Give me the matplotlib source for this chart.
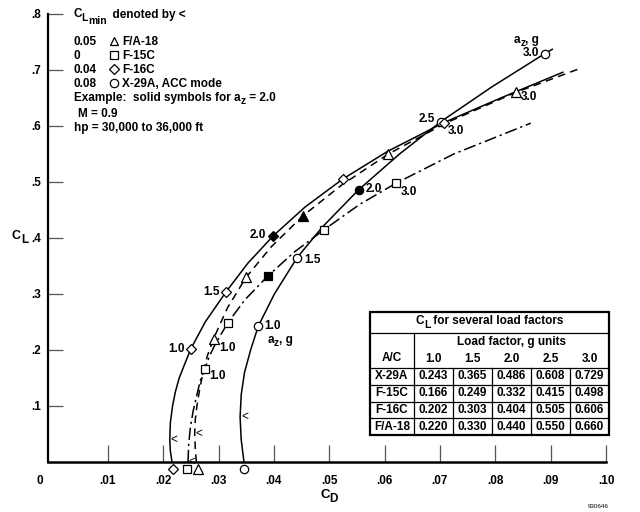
import matplotlib
matplotlib.use("Agg")
import matplotlib.pyplot as plt
from matplotlib.patches import Rectangle

plt.rcParams['font.family'] = ['Liberation Sans', 'DejaVu Sans']
plt.rcParams['font.weight'] = 'bold'

# Load factors and C_L table values
load_factors = ['1.0', '1.5', '2.0', '2.5', '3.0']
aircraft = ['X-29A', 'F-15C', 'F-16C', 'F/A-18']
cl_x29 = [0.243, 0.365, 0.486, 0.608, 0.729]
cl_f15 = [0.166, 0.249, 0.332, 0.415, 0.498]
cl_f16 = [0.202, 0.303, 0.404, 0.505, 0.606]
cl_fa18 = [0.220, 0.330, 0.440, 0.550, 0.660]

# C_D read at the load factor symbols
cd_x29 = [0.0372, 0.0442, 0.0553, 0.0702, 0.0889]
cd_f15 = [0.0275, 0.0317, 0.0389, 0.0491, 0.0621]
cd_f16 = [0.0250, 0.0313, 0.0399, 0.0524, 0.0707]
cd_fa18 = [0.0291, 0.0350, 0.0453, 0.0607, 0.0837]

# C_D symbols sitting on the axis
cd_zero_x29 = 0.0346
cd_zero_f15 = 0.0243
cd_zero_f16 = 0.0217
cd_zero_fa18 = 0.0263

# C_Lmin marks (<)
clmin_x29, cdmin_x29 = 0.08, 0.0341
clmin_f15, cdmin_f15 = 0.0, 0.0246
clmin_f16, cdmin_f16 = 0.04, 0.0213
clmin_fa18, cdmin_fa18 = 0.05, 0.0259

# Polar curves
curve_x29_cl = [0.0, 0.04, 0.08, 0.12, 0.16, 0.20, 0.243, 0.30, 0.365, 0.42, 0.486, 0.55, 0.608, 0.67, 0.729, 0.737]
curve_x29_cd = [0.0346, 0.0341, 0.0339, 0.0341, 0.0347, 0.0358, 0.0372, 0.0401, 0.0442, 0.0488, 0.0553, 0.0627, 0.0702, 0.0794, 0.0889, 0.0903]
curve_f16_cl = [0.0, 0.02, 0.04, 0.07, 0.10, 0.125, 0.15, 0.175, 0.202, 0.25, 0.303, 0.355, 0.404, 0.455, 0.505, 0.555, 0.606, 0.65, 0.696]
curve_f16_cd = [0.0216, 0.0213, 0.0212, 0.0213, 0.0217, 0.0222, 0.0229, 0.0239, 0.0250, 0.0276, 0.0313, 0.0353, 0.0399, 0.0456, 0.0524, 0.0606, 0.0707, 0.0810, 0.0922]
curve_fa18_cl = [0.0, 0.025, 0.05, 0.075, 0.10, 0.13, 0.16, 0.19, 0.220, 0.275, 0.330, 0.385, 0.440, 0.495, 0.550, 0.605, 0.660, 0.702]
curve_fa18_cd = [0.0260, 0.0258, 0.0257, 0.0258, 0.0261, 0.0266, 0.0272, 0.0280, 0.0291, 0.0316, 0.0350, 0.0396, 0.0453, 0.0523, 0.0607, 0.0710, 0.0837, 0.0951]
curve_f15_cl = [0.0, 0.03, 0.06, 0.09, 0.12, 0.145, 0.166, 0.19, 0.21, 0.249, 0.29, 0.332, 0.375, 0.415, 0.46, 0.498, 0.55, 0.605]
curve_f15_cd = [0.0245, 0.0246, 0.0249, 0.0254, 0.0261, 0.0267, 0.0275, 0.0284, 0.0294, 0.0317, 0.0348, 0.0389, 0.0437, 0.0491, 0.0555, 0.0621, 0.0725, 0.0864]

x_ticks = [0.01, 0.02, 0.03, 0.04, 0.05, 0.06, 0.07, 0.08, 0.09, 0.10]
x_tick_labels = ['.01', '.02', '.03', '.04', '.05', '.06', '.07', '.08', '.09', '.10']
y_ticks = [0.1, 0.2, 0.3, 0.4, 0.5, 0.6, 0.7, 0.8]
y_tick_labels = ['.1', '.2', '.3', '.4', '.5', '.6', '.7', '.8']

FS = 8.5
SUB = 7.5

fig = plt.figure(figsize=(6.4, 5.12), dpi=100)
ax = fig.add_axes([48 / 640, 50 / 512, 558 / 640, 448 / 512])
ax.set_xlim(-0.0008, 0.10)
ax.set_ylim(0, 0.8)

# overlay in pixel coordinates (y down) for texts and the table
ov = fig.add_axes([0, 0, 1, 1])
ov.set_xlim(0, 640)
ov.set_ylim(512, 0)
ov.axis('off')
ov.patch.set_alpha(0)
renderer = fig.canvas.get_renderer()


def rich(x, y, parts, ha='left'):
    # parts: (text, size, dy) with dy in pixels downward
    objs = []
    cx = x
    for s, size, dy in parts:
        t = ov.text(cx, y + dy, s, fontsize=size, ha='left', va='center', zorder=7)
        cx += t.get_window_extent(renderer).width
        objs.append(t)
    shift = {'left': 0, 'center': -(cx - x) / 2, 'right': -(cx - x)}[ha]
    for t in objs:
        px, py = t.get_position()
        t.set_position((px + shift, py))


def to_px(cd, cl):
    dx, dy = ax.transData.transform((cd, cl))
    return dx, 512 - dy


line_kw = dict(color='black', lw=1.1)
ax.plot(curve_x29_cd, curve_x29_cl, ls='-', **line_kw)
ax.plot(curve_f16_cd, curve_f16_cl, ls='-', **line_kw)
ax.plot(curve_fa18_cd, curve_fa18_cl, ls=(0, (5, 3.5)), **line_kw)
ax.plot(curve_f15_cd, curve_f15_cl, ls=(0, (8, 2.5, 1.5, 2.5)), **line_kw)

sets = [
    (cd_x29, cl_x29, cd_zero_x29, 'o', 6.0),
    (cd_f15, cl_f15, cd_zero_f15, 's', 6.0),
    (cd_f16, cl_f16, cd_zero_f16, 'D', 5.5),
    (cd_fa18, cl_fa18, cd_zero_fa18, '^', 7.0),
]
for cds, cls, cd0, mk, ms in sets:
    open_cd = [c for i, c in enumerate(cds) if i != 2]
    open_cl = [c for i, c in enumerate(cls) if i != 2]
    ax.plot(open_cd, open_cl, ls='none', marker=mk, ms=ms, mfc='white',
            mec='black', mew=0.9, zorder=4)
    ax.plot([cds[2]], [cls[2]], ls='none', marker=mk, ms=ms, mfc='black',
            mec='black', mew=0.9, zorder=4)
    ax.plot([cd0], [-0.012], ls='none', marker=mk, ms=ms, mfc='white',
            mec='black', mew=0.9, zorder=4, clip_on=False)

for cdm, clm in [(cdmin_x29, clmin_x29), (cdmin_f15, clmin_f15),
                 (cdmin_f16, clmin_f16), (cdmin_fa18, clmin_fa18)]:
    ax.text(cdm, clm, '<', fontsize=8.5, fontweight='normal', ha='left', va='center')


# load factor labels near symbols
def label(cd, cl, text, dx, dy, ha):
    ax.annotate(text, (cd, cl), xytext=(dx * 0.72, dy * 0.72), textcoords='offset points',
                ha=ha, va='center', fontsize=FS)


label(cd_f16[0], cl_f16[0], '1.0', -6, 0, 'right')
label(cd_f16[1], cl_f16[1], '1.5', -6, 0, 'right')
label(cd_f16[2], cl_f16[2], '2.0', -7, 1, 'right')
label(cd_f16[4], cl_f16[4], '3.0', 4, -8, 'left')
label(cd_fa18[0], cl_fa18[0], '1.0', 6, -9, 'left')
label(cd_fa18[4], cl_fa18[4], '3.0', 5, -5, 'left')
label(cd_f15[0], cl_f15[0], '1.0', 5, -7, 'left')
label(cd_f15[4], cl_f15[4], '3.0', 5, -9, 'left')
label(cd_x29[0], cl_x29[0], '1.0', 6, 0, 'left')
label(cd_x29[1], cl_x29[1], '1.5', 7, -2, 'left')
label(cd_x29[2], cl_x29[2], '2.0', 7, 1, 'left')
label(cd_x29[3], cl_x29[3], '2.5', -6, 3, 'right')
label(cd_x29[4], cl_x29[4], '3.0', -5, 1, 'right')

az_parts = [('a', FS, 0), ('z', SUB, 3), (', g', FS, 0)]
x1, y1 = to_px(cd_x29[0], cl_x29[0])
rich(x1 + 9, y1 + 14, az_parts, 'left')
x3, y3 = to_px(cd_x29[4], cl_x29[4])
rich(x3 - 18, y3 - 14, az_parts, 'center')

# axes styling
for s in ['top', 'right']:
    ax.spines[s].set_visible(False)
ax.spines['left'].set_linewidth(1.6)
ax.spines['bottom'].set_linewidth(1.8)
ax.set_xticks(x_ticks)
ax.set_xticklabels(x_tick_labels, fontsize=FS)
ax.set_yticks(y_ticks)
ax.set_yticklabels(y_tick_labels, fontsize=FS)
ax.tick_params(axis='x', direction='in', length=12, width=0.9, color='#555555', pad=9)
ax.tick_params(axis='y', direction='in', length=11, width=0.9, color='#555555', pad=5)
ax.patch.set_alpha(0)

ov.text(40, 481, '0', fontsize=FS, ha='center', va='center')
rich(329, 495, [('C', 9.5, 0), ('D', 8.5, 4)], 'center')
rich(20, 236, [('C', 9, 0), ('L', 8.5, 4)], 'center')
ov.text(598, 506, '930646', fontsize=4.5, fontweight='normal', ha='center', va='center')

# notes block
rich(73, 14, [('C', FS, 0), ('L', SUB, 4), ('min', SUB, 7), ('  denoted by <', FS, 1)])
notes = [('0.05', '^', 'F/A-18', 42), ('0', 's', 'F-15C', 56),
         ('0.04', 'D', 'F-16C', 70), ('0.08', 'o', 'X-29A, ACC mode', 84)]
for val, mk, name, yy in notes:
    ov.text(74, yy, val, fontsize=FS, ha='left', va='center')
    ov.plot([114], [yy - 1], marker=mk, ms=6 if mk != 'D' else 5.5, mfc='white',
            mec='black', mew=0.9, ls='none')
    ov.text(122, yy, name, fontsize=FS, ha='left', va='center')
rich(74, 98, [('Example:  solid symbols for a', FS, 0), ('z', SUB, 3), (' = 2.0', FS, 0)])
ov.text(78, 114, 'M = 0.9', fontsize=FS, ha='left', va='center')
ov.text(74, 128, 'hp = 30,000 to 36,000 ft', fontsize=FS, ha='left', va='center')

# table
tx0, tx1 = 370, 609
ty0, ty_title, ty_head, ty1 = 312, 333, 368, 435
col_edges = [414 + i * (tx1 - 414) / 5 for i in range(6)]
row_edges = [ty_head + i * (ty1 - ty_head) / 4 for i in range(5)]
ov.add_patch(Rectangle((tx0, ty0), tx1 - tx0, ty1 - ty0, fc='white', ec='black', lw=1.6, zorder=5))
ov.plot([tx0, tx1], [ty_title, ty_title], color='black', lw=0.9, zorder=6)
ov.plot([414, 414], [ty_title, ty1], color='black', lw=0.9, zorder=6)
for yy in row_edges[:-1]:
    ov.plot([tx0, tx1], [yy, yy], color='black', lw=0.9, zorder=6)
for xx in col_edges[1:-1]:
    ov.plot([xx, xx], [ty_head, ty1], color='black', lw=0.9, zorder=6)
rich((tx0 + tx1) / 2, 321, [('C', FS, 0), ('L', SUB, 4), (' for several load factors', FS, 0)], 'center')
ov.text((414 + tx1) / 2, 342, 'Load factor, g units', fontsize=FS, ha='center', va='center', zorder=7)
ov.text(392, 358, 'A/C', fontsize=FS, ha='center', va='center', zorder=7)
for i, lf in enumerate(load_factors):
    ov.text((col_edges[i] + col_edges[i + 1]) / 2, 359, lf, fontsize=FS, ha='center', va='center', zorder=7)
table_rows = [cl_x29, cl_f15, cl_f16, cl_fa18]
for r, (name, vals) in enumerate(zip(aircraft, table_rows)):
    yc = (row_edges[r] + row_edges[r + 1]) / 2
    ov.text(392, yc, name, fontsize=FS, ha='center', va='center', zorder=7)
    for i, v in enumerate(vals):
        ov.text((col_edges[i] + col_edges[i + 1]) / 2, yc, f'{v:.3f}', fontsize=FS,
                ha='center', va='center', zorder=7)

fig.savefig('out.png', dpi=100)
